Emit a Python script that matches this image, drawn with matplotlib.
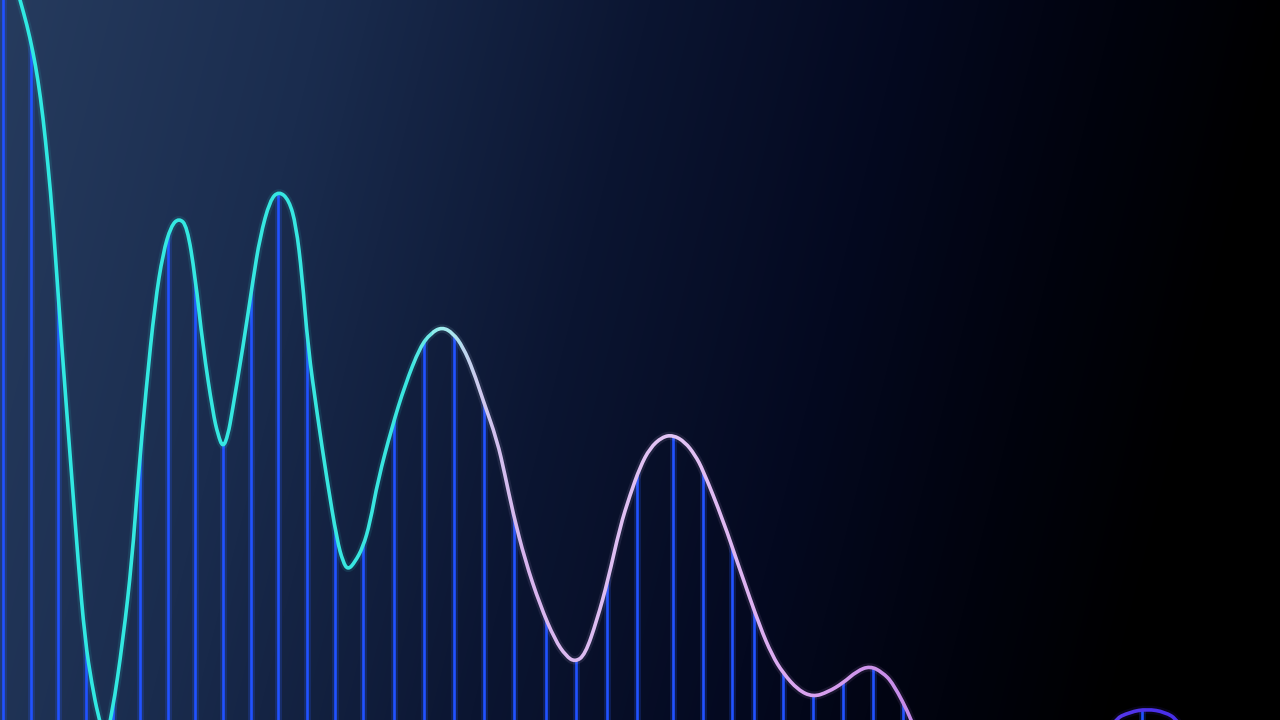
import matplotlib.pyplot as plt
import matplotlib.patches as mplpatches
from matplotlib.path import Path
from matplotlib.colors import LinearSegmentedColormap
import numpy as np

# data (x in pixels from the left, height in pixels above the bottom edge) --------------------------------------------

curveX = [-10, 0, 8, 14, 20, 27, 33, 38, 43, 48, 53, 62, 72, 78, 85, 92, 98, 105, 112, 123, 132, 138, 146, 155, 163,
          171, 179, 187, 195, 203, 213, 218, 223, 228, 232, 243, 253, 260, 270, 279, 289, 296, 302, 308, 317, 327,
          337, 343, 348, 355, 363, 370, 378, 392, 405, 420, 431, 442, 453, 463, 473, 483, 497, 505, 513, 525, 540,
          555, 566, 575, 585, 597, 608, 620, 630, 640, 650, 662, 673, 685, 695, 703, 723, 740, 760, 772, 783, 798,
          813, 828, 843, 857, 870, 882, 893, 912, 935, 980, 1040, 1080, 1113, 1130, 1147, 1165, 1178, 1200, 1240,
          1300]
curveHeight = [760, 768, 760, 742, 720, 695, 668, 640, 603, 555, 500, 370, 240, 160, 80, 35, 5, -20, 5, 80, 160,
               240, 330, 417, 467, 494, 502, 494, 445, 373, 307, 285, 272, 285, 307, 373, 440, 483, 520, 529, 520,
               495, 445, 373, 307, 240, 180, 158, 150, 158, 173, 197, 240, 293, 335, 373, 387, 393, 387, 373, 350,
               320, 280, 245, 207, 160, 115, 80, 64, 58, 65, 100, 140, 193, 225, 253, 272, 283, 285, 278, 265, 250,
               200, 150, 93, 65, 47, 30, 23, 28, 37, 49, 54, 48, 37, 0, -60, -110, -100, -60, 0, 8, 11, 8, 0, -40,
               -80, -90]

stemX = [3, 31, 58, 86, 113, 140, 168, 195, 223, 251, 278, 307, 335, 363, 394, 424, 454, 484, 514, 546, 576, 607,
         637, 673, 703, 732, 754, 783, 813, 843, 873, 903, 1142]

# generate figure and panel --------------------------------------------------------------------------------------------

figureWidth = 12.8
figureHeight = 7.2
plt.figure(figsize=(figureWidth, figureHeight), dpi=100)

panel1 = plt.axes([0, 0, 1, 1])
panel1.set_xlim(0, 1280)
panel1.set_ylim(0, 720)
panel1.axis('off')

# background gradient, light navy in the top left fading to black on the right
bgCmap = LinearSegmentedColormap.from_list('bg', [(0.0, '#263b5e'), (0.25, '#1a2c4e'), (0.5, '#0b1531'),
                                                  (0.7, '#040920'), (0.86, '#01030e'), (1.0, '#000000')])
gridX, gridY = np.meshgrid(np.linspace(0, 1280, 320), np.linspace(0, 720, 180))
bgT = np.clip((gridX + 0.25 * gridY) / 1300, 0, 1)
panel1.imshow(bgT, cmap=bgCmap, vmin=0, vmax=1, extent=(0, 1280, 0, 720), origin='upper', aspect='auto',
              interpolation='bilinear', zorder=0)

# smooth curve path through the points (points act as quadratic control points) ---------------------------------------

points = list(zip(curveX, curveHeight))
verts = [points[0]]
codes = [Path.MOVETO]
for i in range(1, len(points) - 1):
    mid = ((points[i][0] + points[i + 1][0]) / 2, (points[i][1] + points[i + 1][1]) / 2)
    verts += [points[i], mid]
    codes += [Path.CURVE3, Path.CURVE3]
verts.append(points[-1])
codes.append(Path.LINETO)
curvePath = Path(verts, codes)

# closed area under the curve, used to cut the stems
areaPath = Path(verts + [(curveX[-1], -500), (curveX[0], -500), points[0]],
                codes + [Path.LINETO, Path.LINETO, Path.CLOSEPOLY])
areaPatch = mplpatches.PathPatch(areaPath, facecolor='none', edgecolor='none')
panel1.add_patch(areaPatch)

# stems ----------------------------------------------------------------------------------------------------------------

stemGlow = panel1.vlines(stemX, -10, 800, color='#2a5cff', linewidth=5, alpha=0.2, zorder=2)
stemGlow.set_clip_path(areaPatch)
stems = panel1.vlines(stemX, -10, 800, color='#2152ff', linewidth=1.9, alpha=1.0, zorder=3)
stems.set_clip_path(areaPatch)

# gradient coloured curve, drawn band by band --------------------------------------------------------------------------

curveCmap = LinearSegmentedColormap.from_list('curve', [
    (0.0, '#2fe9e2'), (0.32, '#3ae6e0'), (0.345, '#9eeeee'), (0.375, '#cfc8ee'), (0.41, '#d8b4ee'),
    (0.53, '#e2c4f4'), (0.64, '#d8a0ee'), (0.71, '#c58ae8'), (0.80, '#7a50ee'), (0.90, '#4b30ea'),
    (1.0, '#3a28e0')])

bandWidth = 6
for x0 in np.arange(-30, 1300, bandWidth):
    bandColor = curveCmap(np.clip((x0 + bandWidth / 2) / 1280, 0, 1))
    for lw, alpha, z in [(6, 0.1, 4), (2.6, 1.0, 5)]:
        line = mplpatches.PathPatch(curvePath, fill=False, edgecolor=bandColor, linewidth=lw,
                                    alpha=alpha, zorder=z, capstyle='round', joinstyle='round')
        panel1.add_patch(line)
        clipBox = mplpatches.Rectangle((x0, -1000), bandWidth, 3000, transform=panel1.transData)
        line.set_clip_path(clipBox)

# ----------------------------------------------------------------------------------------------------------------------

plt.savefig('out.png', dpi=100)
